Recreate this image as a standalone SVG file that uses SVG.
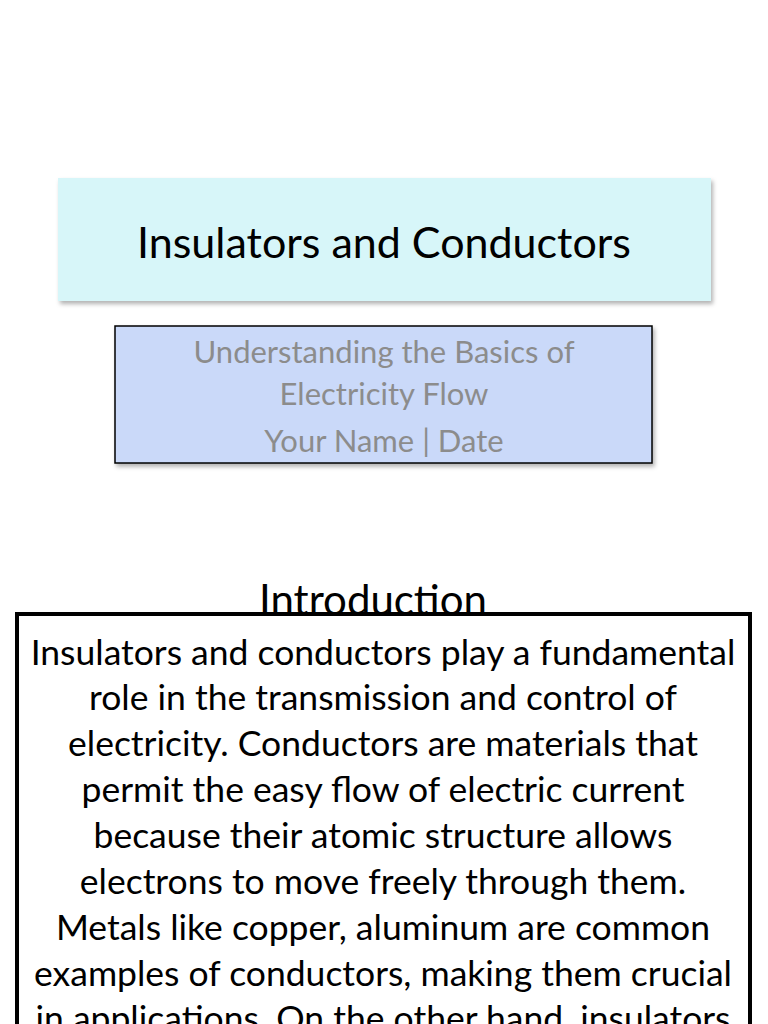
<svg xmlns="http://www.w3.org/2000/svg" width="768" height="1024" viewBox="0 0 768 1024">
<defs>
<filter id="sh" x="-5%" y="-5%" width="110%" height="120%"><feDropShadow dx="2" dy="3" stdDeviation="2" flood-color="#000" flood-opacity="0.3"/></filter>
<style>
text{font-family:Lato,"Open Sans","Liberation Sans",sans-serif;text-anchor:middle}
.b{font-size:35.5px;fill:#000}
.s{font-size:31px;fill:#8c8c8c}
</style>
</defs>
<rect width="768" height="1024" fill="#fff"/>
<g id="title">
<rect x="58" y="178" width="653" height="123" fill="#d7f6f9" filter="url(#sh)"/>
<text x="384" y="258" style="font-size:43px">Insulators and Conductors</text>
</g>
<g id="subtitle">
<rect x="115" y="326" width="537" height="137" fill="#cad9f9" stroke="#000" stroke-width="1.5" filter="url(#sh)"/>
<text class="s" x="384" y="363">Understanding the Basics of</text>
<text class="s" x="384" y="405">Electricity Flow</text>
<text class="s" x="384" y="452">Your Name | Date</text>
</g>
<g id="intro-heading">
<text x="373" y="615" style="font-size:42px">Introduction</text>
</g>
<g id="intro-body">
<rect x="17" y="614" width="733" height="440" fill="#fff" stroke="#000" stroke-width="4"/>
<text class="b" x="383" y="665">Insulators and conductors play a fundamental</text>
<text class="b" x="383" y="710">role in the transmission and control of</text>
<text class="b" x="383" y="756">electricity. Conductors are materials that</text>
<text class="b" x="383" y="802">permit the easy flow of electric current</text>
<text class="b" x="383" y="848">because their atomic structure allows</text>
<text class="b" x="383" y="894">electrons to move freely through them.</text>
<text class="b" x="383" y="940">Metals like copper, aluminum are common</text>
<text class="b" x="383" y="986">examples of conductors, making them crucial</text>
<text class="b" x="383" y="1031">in applications. On the other hand, insulators</text>
</g>
</svg>
